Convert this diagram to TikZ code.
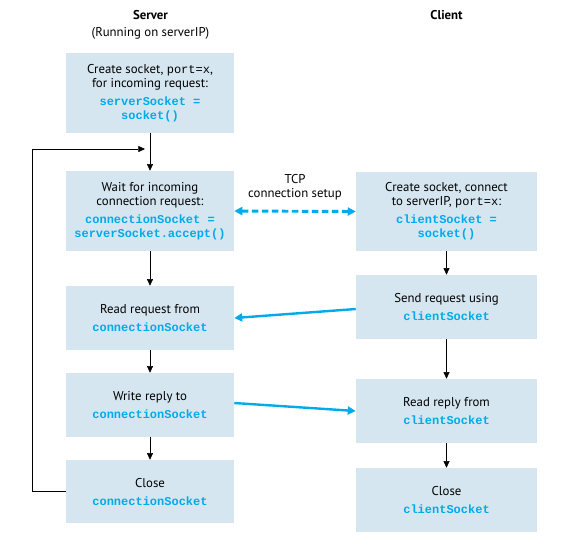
\documentclass[tikz,border=0pt]{standalone}
\usepackage{fontspec}
\setmainfont{PT Sans}
\newfontfamily\codefont{Liberation Mono}
\usetikzlibrary{arrows.meta}
\definecolor{boxfill}{RGB}{214,230,240}
\definecolor{sockblue}{RGB}{0,170,235}
\newcommand{\sockcode}[1]{{\codefont\fontsize{9}{10.5}\selectfont\bfseries\color{sockblue}#1}}
\newcommand{\plaincode}[1]{{\codefont\fontsize{9}{10.5}\selectfont #1}}
\begin{document}
\begin{tikzpicture}[x=0.75pt,y=-0.75pt,
  every node/.style={font=\fontsize{9.6}{10.5}\selectfont,align=center},
  stage/.style={fill=boxfill,inner sep=0pt},
  srv/.style={stage,minimum width=126pt},
  cli/.style={stage,minimum width=135.75pt},
  flow/.style={-{Triangle[length=5pt,width=4.5pt]},black,thin},
  msg/.style={-{Triangle[length=6pt,width=6pt]},sockblue,line width=1.8pt}]
  \useasboundingbox (0,0) rectangle (577,540);
  % column heads
  \node (srvhead) at (150.5,15) {\bfseries Server};
  \node (srvnote) at (150.5,33) {(Running on serverIP)};
  \node (clihead) at (446.5,15) {\bfseries Client};
  % server side
  \node[srv,minimum height=60pt] (s1) at (150,93)
    {Create socket, \plaincode{port=x},\\for incoming request:\\[3pt]
     \sockcode{serverSocket =}\\\sockcode{socket()}};
  \node[srv,minimum height=60pt] (s2) at (150,211)
    {Wait for incoming\\connection request:\\[3pt]
     \sockcode{connectionSocket =}\\\sockcode{serverSocket.accept()}};
  \node[srv,minimum height=48pt] (s3) at (150,318)
    {Read request from\\[3pt]\sockcode{connectionSocket}};
  \node[srv,minimum height=48pt] (s4) at (150,405)
    {Write reply to\\[3pt]\sockcode{connectionSocket}};
  \node[srv,minimum height=47.25pt] (s5) at (150,491.5)
    {Close\\[3pt]\sockcode{connectionSocket}};
  % client side
  \node[cli,minimum height=59.25pt] (c1) at (446.5,211.5)
    {Create socket, connect\\to serverIP, \plaincode{port=x}:\\[3pt]
     \sockcode{clientSocket =}\\\sockcode{socket()}};
  \node[cli,minimum height=48pt] (c2) at (446.5,307)
    {Send request using\\[3pt]\sockcode{clientSocket}};
  \node[cli,minimum height=48pt] (c3) at (446.5,411)
    {Read reply from\\[3pt]\sockcode{clientSocket}};
  \node[cli,minimum height=48pt] (c4) at (446.5,500)
    {Close\\[3pt]\sockcode{clientSocket}};
  \coordinate (join) at (150,149);
  % control flow
  \draw[flow] (s1) -- (s2);
  \draw[flow] (s2) -- (s3);
  \draw[flow] (s3) -- (s4);
  \draw[flow] (s4) -- (s5);
  \draw[flow] (c1) -- (c2);
  \draw[flow] (c2) -- (c3);
  \draw[flow] (c3) -- (c4);
  \draw[flow] (s5.west) -- ++(-33,0) |- ([xshift=-3.75pt]join);
  % messages
  \draw[msg,line width=2.2pt,{Triangle[length=6pt,width=6pt]}-{Triangle[length=6pt,width=6pt]},
    dash pattern=on 5pt off 2.5pt] (s2.east) -- (c1.west);
  \node (tcp) at (295,187) {TCP\\connection setup};
  \draw[msg] ([yshift=-1.5pt]c2.west) -- (s3.east);
  \draw[msg] ([yshift=1.5pt]s4.east) -- (c3.west);
\end{tikzpicture}
\end{document}
